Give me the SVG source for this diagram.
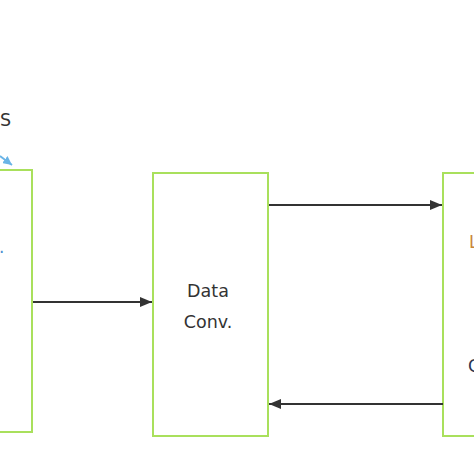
<svg xmlns="http://www.w3.org/2000/svg" width="474" height="474" viewBox="0 0 474 474">
<defs>
<style>
.box{fill:#fff;stroke:#a9e05c;stroke-width:2}
.conn{stroke:#333;stroke-width:1.8;fill:none}
.lbl{font-family:"DejaVu Sans",Verdana,sans-serif;font-size:17.5px;fill:#333}
</style>
<marker id="ah" viewBox="0 0 12 10" refX="12" refY="5" markerWidth="12" markerHeight="10" markerUnits="userSpaceOnUse" orient="auto">
<path d="M0,0 L12,5 L0,10 z" fill="#333"/>
</marker>
<marker id="ahb" viewBox="0 0 10 10" refX="10" refY="5" markerWidth="9" markerHeight="9" markerUnits="userSpaceOnUse" orient="auto">
<path d="M0,0 L10,5 L0,10 z" fill="#6ab4e6"/>
</marker>
</defs>
<rect width="474" height="474" fill="#fff"/>
<g id="label-top">
<text class="lbl" x="11" y="126" text-anchor="end">S</text>
</g>
<g id="node-left">
<rect class="box" x="-20" y="170" width="52" height="262"/>
<text x="-1" y="253" font-family="DejaVu Sans,sans-serif" font-size="17" fill="#4a8fd0">.</text>
</g>
<g id="node-middle">
<rect class="box" x="153" y="173" width="115" height="263"/>
<text class="lbl" x="208" y="297" text-anchor="middle">Data</text>
<text class="lbl" x="208" y="328" text-anchor="middle">Conv.</text>
</g>
<g id="node-right">
<rect class="box" x="443" y="173" width="60" height="263"/>
<text x="469" y="248" font-family="DejaVu Sans,sans-serif" font-size="17" fill="#c8863a">L</text>
<text x="468" y="372" font-family="DejaVu Sans,sans-serif" font-size="17" fill="#2b3550">C</text>
</g>
<g id="connectors">
<line x1="0" y1="156" x2="12" y2="165" stroke="#6ab4e6" stroke-width="1.8" marker-end="url(#ahb)"/>
<line class="conn" x1="33" y1="302" x2="152" y2="302" marker-end="url(#ah)"/>
<line class="conn" x1="269" y1="205" x2="442" y2="205" marker-end="url(#ah)"/>
<line class="conn" x1="443" y1="404" x2="269" y2="404" stroke="#555" marker-end="url(#ah)"/>
</g>
</svg>
